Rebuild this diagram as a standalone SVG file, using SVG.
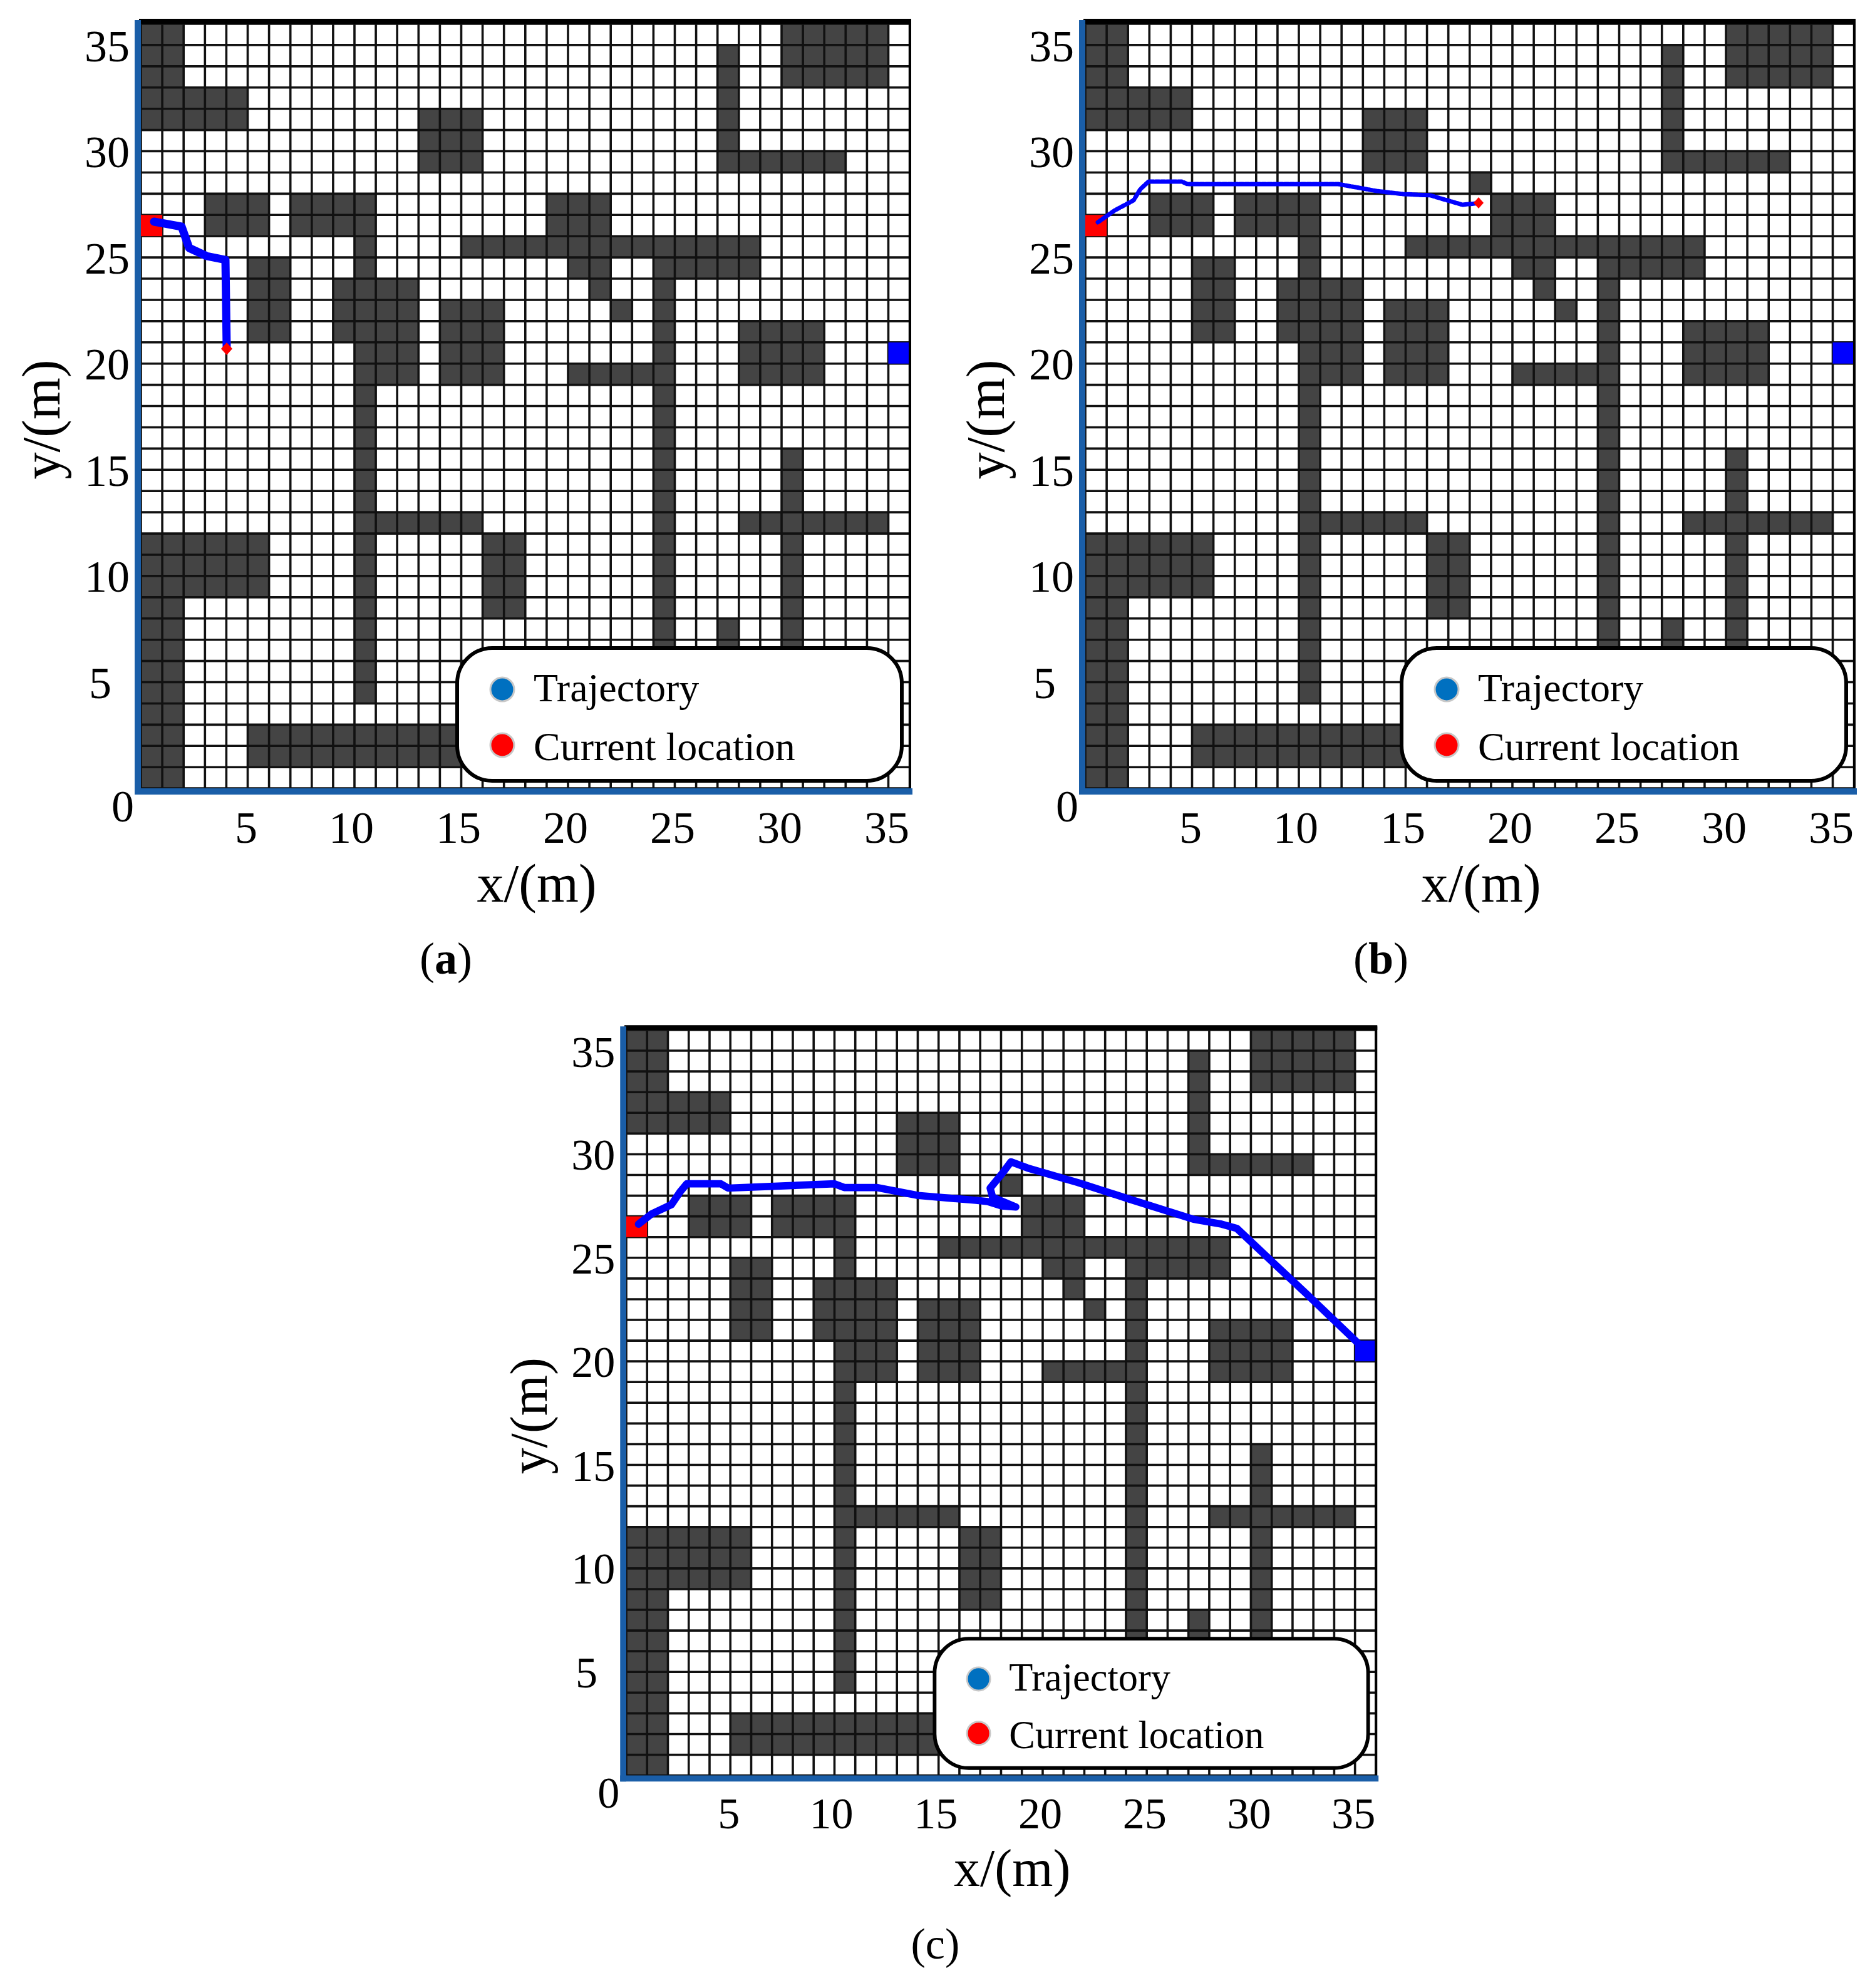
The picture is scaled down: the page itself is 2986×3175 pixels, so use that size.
<svg xmlns="http://www.w3.org/2000/svg" xmlns:xlink="http://www.w3.org/1999/xlink" width="2986" height="3175" viewBox="0 0 2986 3175">
<style>
.t{font-family:"Liberation Serif","Times New Roman",serif;fill:#000}
.tk{font-size:72px}
.ttl{font-size:86px}
.lg{font-size:64px}
.cap{font-size:72px}
.ob{fill:#444}
.gl{fill:none;stroke:#111;stroke-width:3.6;vector-effect:non-scaling-stroke}
.legend{fill:#fff;stroke:#000;stroke-width:6}
.trj{fill:none;stroke:#0000ff;stroke-linejoin:round;stroke-linecap:round}
</style>
<defs>
<g id="base">
<rect x="0" y="0" width="1227" height="1221" fill="#fff"/>
<g transform="scale(34.1,33.92)">
<g class="ob">
<rect x="0" y="0" width="2" height="5"/>
<rect x="0" y="3" width="5" height="2"/>
<rect x="30" y="0" width="5" height="3"/>
<rect x="27" y="1" width="1" height="6"/>
<rect x="27" y="6" width="6" height="1"/>
<rect x="13" y="4" width="3" height="3"/>
<rect x="3" y="8" width="3" height="2"/>
<rect x="7" y="8" width="4" height="2"/>
<rect x="10" y="8" width="1" height="24"/>
<rect x="5" y="11" width="2" height="4"/>
<rect x="9" y="12" width="4" height="3"/>
<rect x="10" y="15" width="3" height="2"/>
<rect x="14" y="13" width="3" height="4"/>
<rect x="15" y="10" width="14" height="1"/>
<rect x="19" y="8" width="3" height="2"/>
<rect x="20" y="11" width="2" height="1"/>
<rect x="24" y="11" width="5" height="1"/>
<rect x="21" y="12" width="1" height="1"/>
<rect x="22" y="13" width="1" height="1"/>
<rect x="24" y="11" width="1" height="19"/>
<rect x="28" y="14" width="4" height="3"/>
<rect x="20" y="16" width="4" height="1"/>
<rect x="11" y="23" width="5" height="1"/>
<rect x="16" y="24" width="2" height="4"/>
<rect x="0" y="24" width="6" height="3"/>
<rect x="0" y="24" width="2" height="12"/>
<rect x="5" y="33" width="11" height="2"/>
<rect x="30" y="20" width="1" height="10"/>
<rect x="28" y="23" width="7" height="1"/>
<rect x="27" y="28" width="1" height="2"/>
</g>
<path class="gl" d="M0 0V36M1 0V36M2 0V36M3 0V36M4 0V36M5 0V36M6 0V36M7 0V36M8 0V36M9 0V36M10 0V36M11 0V36M12 0V36M13 0V36M14 0V36M15 0V36M16 0V36M17 0V36M18 0V36M19 0V36M20 0V36M21 0V36M22 0V36M23 0V36M24 0V36M25 0V36M26 0V36M27 0V36M28 0V36M29 0V36M30 0V36M31 0V36M32 0V36M33 0V36M34 0V36M35 0V36M36 0V36M0 0H36M0 1H36M0 2H36M0 3H36M0 4H36M0 5H36M0 6H36M0 7H36M0 8H36M0 9H36M0 10H36M0 11H36M0 12H36M0 13H36M0 14H36M0 15H36M0 16H36M0 17H36M0 18H36M0 19H36M0 20H36M0 21H36M0 22H36M0 23H36M0 24H36M0 25H36M0 26H36M0 27H36M0 28H36M0 29H36M0 30H36M0 31H36M0 32H36M0 33H36M0 34H36M0 35H36M0 36H36"/>
<rect x="0" y="9" width="1" height="1" fill="#ff0000"/>
<rect x="35" y="15" width="1" height="1" fill="#0000ff"/>
</g>
<line x1="1228" y1="-6" x2="1228" y2="1226" stroke="#000" stroke-width="4"/>
<line x1="-3" y1="-4" x2="1230" y2="-4" stroke="#000" stroke-width="8"/>
<line x1="-5" y1="-6" x2="-5" y2="1231" stroke="#1a5ea8" stroke-width="10"/>
<line x1="-10" y1="1226" x2="1232" y2="1226" stroke="#1a5ea8" stroke-width="10"/>
</g>
<rect id="dyn" x="613.8" y="237.4" width="34.1" height="33.92" fill="#444" stroke="#111" stroke-width="3.6"/>
<g id="legendbox">
<rect class="legend" x="505" y="997" width="710" height="212" rx="56"/>
<circle cx="577" cy="1063" r="19" fill="#0070c0" stroke="#c8c8c8" stroke-width="3"/>
<circle cx="577" cy="1152" r="19" fill="#ff0000" stroke="#c8c8c8" stroke-width="3"/>
</g>
</defs>

<g id="panel-a" transform="translate(225,38)">
<use xlink:href="#base"/>
<path class="trj" stroke-width="13" d="M21 316L65 324L77 358L105 371L135 377L137 518"/>
<path d="M137 509L146 519L137 529L128 519Z" fill="#ff0000"/>
<use xlink:href="#legendbox"/>
<text class="t lg" x="627" y="1082">Trajectory</text>
<text class="t lg" x="627" y="1176">Current location</text>
<g class="t tk" text-anchor="middle">
<text x="-29" y="1274">0</text>
<text x="168" y="1308">5</text><text x="336" y="1308">10</text><text x="507" y="1308">15</text><text x="678" y="1308">20</text><text x="849" y="1308">25</text><text x="1020" y="1308">30</text><text x="1191" y="1308">35</text>
</g>
<g class="t tk" text-anchor="end">
<text x="-47" y="1077">5</text><text x="-18" y="907">10</text><text x="-18" y="738">15</text><text x="-18" y="568">20</text><text x="-18" y="399">25</text><text x="-18" y="229">30</text><text x="-18" y="60">35</text>
</g>
<text class="t ttl" x="632" y="1402" text-anchor="middle">x/(m)</text>
<text class="t ttl" transform="translate(-130,632) rotate(-90)" text-anchor="middle">y/(m)</text>
<text class="t cap" x="487" y="1517" text-anchor="middle">(<tspan font-weight="bold">a</tspan>)</text>
</g>

<g id="panel-b" transform="translate(1733,38)">
<use xlink:href="#base"/>
<use xlink:href="#dyn"/>
<path class="trj" stroke-width="7" stroke-dasharray="6 3" d="M20 317L47 298L77 282L88 264L101 252L154 252L163 256L404 256L465 267L508 272L551 274L602 289L622 287"/>
<path d="M628 277L636 286L628 295L620 286Z" fill="#ff0000"/>
<use xlink:href="#legendbox"/>
<text class="t lg" x="627" y="1082">Trajectory</text>
<text class="t lg" x="627" y="1176">Current location</text>
<g class="t tk" text-anchor="middle">
<text x="-29" y="1274">0</text>
<text x="168" y="1308">5</text><text x="336" y="1308">10</text><text x="507" y="1308">15</text><text x="678" y="1308">20</text><text x="849" y="1308">25</text><text x="1020" y="1308">30</text><text x="1191" y="1308">35</text>
</g>
<g class="t tk" text-anchor="end">
<text x="-47" y="1077">5</text><text x="-18" y="907">10</text><text x="-18" y="738">15</text><text x="-18" y="568">20</text><text x="-18" y="399">25</text><text x="-18" y="229">30</text><text x="-18" y="60">35</text>
</g>
<text class="t ttl" x="632" y="1402" text-anchor="middle">x/(m)</text>
<text class="t ttl" transform="translate(-130,632) rotate(-90)" text-anchor="middle">y/(m)</text>
<text class="t cap" x="472" y="1517" text-anchor="middle">(<tspan font-weight="bold">b</tspan>)</text>
</g>

<g id="panel-c" transform="translate(1000,1645) scale(0.975)">
<use xlink:href="#base"/>
<use xlink:href="#dyn"/>
<path class="trj" stroke-width="12" d="M20 318L42 301L74 286L89 264L99 252L155 252L167 259L341 252L357 258L410 258L478 271L573 279L592 281L614 288L638 290L600 274L596 259L615 236L630 216L657 226L740 250L824 277L929 310L975 318L1000 325L1054 376L1116 434L1208 522"/>
<use xlink:href="#legendbox"/>
<text class="t lg" x="627" y="1082">Trajectory</text>
<text class="t lg" x="627" y="1176">Current location</text>
<g class="t tk" text-anchor="middle">
<text x="-29" y="1274">0</text>
<text x="168" y="1308">5</text><text x="336" y="1308">10</text><text x="507" y="1308">15</text><text x="678" y="1308">20</text><text x="849" y="1308">25</text><text x="1020" y="1308">30</text><text x="1191" y="1308">35</text>
</g>
<g class="t tk" text-anchor="end">
<text x="-47" y="1077">5</text><text x="-18" y="907">10</text><text x="-18" y="738">15</text><text x="-18" y="568">20</text><text x="-18" y="399">25</text><text x="-18" y="229">30</text><text x="-18" y="60">35</text>
</g>
<text class="t ttl" x="632" y="1402" text-anchor="middle">x/(m)</text>
<text class="t ttl" transform="translate(-130,632) rotate(-90)" text-anchor="middle">y/(m)</text>
<text class="t cap" x="506" y="1521" text-anchor="middle">(c)</text>
</g>
</svg>
